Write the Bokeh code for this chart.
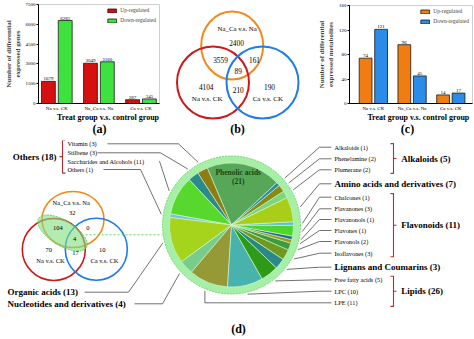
import numpy as np
from bokeh.plotting import figure
from bokeh.layouts import column, row
from bokeh.models import Range1d, FixedTicker, Legend
from bokeh.core.properties import value
from bokeh.embed import file_html
from bokeh.resources import INLINE

# ---------------- data ----------------
groups = ["Na v.s. CK", "Na_Ca v.s. Na", "Ca v.s. CK"]
gene_up = [1679, 3049, 287]
gene_down = [6285, 3160, 345]
gene_ticks = [0, 1500, 3000, 4500, 6000, 7500]
met_up = [74, 96, 14]
met_down = [121, 45, 17]
met_ticks = [0, 40, 80, 120, 160]
legend_labels = ["Up-regulated", "Down-regulated"]
x_title = "Treat group v.s. control group"

venn_sets = ["Na_Ca v.s. Na", "Na v.s. CK", "Ca v.s. CK"]
# regions: NaCa only, Na&NaCa, NaCa&Ca, all, Na only, Na&Ca, Ca only
venn_genes = [2400, 3559, 161, 89, 4104, 210, 190]
venn_metab = [32, 104, 0, 4, 70, 17, 10]

classes = ["Phenolic acids", "Vitamin", "Stilbene", "Saccharides and Alcohols", "Others",
           "Organic acids", "Nucleotides and derivatives", "LPE", "LPC", "Free fatty acids",
           "Lignans and Coumarins", "Isoflavones", "Flavonols", "Flavones", "Flavanonols",
           "Flavanones", "Chalcones", "Amino acids and derivatives", "Plumerane",
           "Phenelamine", "Alkaloids"]
class_counts = [21, 3, 3, 11, 1, 13, 4, 11, 10, 5, 3, 3, 2, 1, 1, 3, 1, 7, 2, 2, 1]

right_list = ["Alkaloids", "Phenelamine", "Plumerane", "Amino acids and derivatives",
              "Chalcones", "Flavanones", "Flavanonols", "Flavones", "Flavonols", "Isoflavones",
              "Lignans and Coumarins", "Free fatty acids", "LPC", "LPE"]
right_bold = ["Amino acids and derivatives", "Lignans and Coumarins"]
left_list = ["Vitamin", "Stilbene", "Saccharides and Alcohols", "Others"]
bottom_list = ["Organic acids", "Nucleotides and derivatives"]
class_groups = {
    "Alkaloids": ["Alkaloids", "Phenelamine", "Plumerane"],
    "Flavonoids": ["Chalcones", "Flavanones", "Flavanonols", "Flavones", "Flavonols", "Isoflavones"],
    "Lipids": ["Free fatty acids", "LPC", "LPE"],
    "Others": ["Vitamin", "Stilbene", "Saccharides and Alcohols", "Others"],
}

# ---------------- styles ----------------
SERIF = "Liberation Serif"
FONT = value(SERIF)
pie_colors = {
    "Phenolic acids": "#58a658", "Vitamin": "#8c7d0e", "Stilbene": "#2b8a8c",
    "Saccharides and Alcohols": "#58d82c", "Others": "#6fc4d8", "Organic acids": "#a6d31c",
    "Nucleotides and derivatives": "#78cc8c", "LPE": "#969a36", "LPC": "#48b2ac",
    "Free fatty acids": "#2e9a18", "Lignans and Coumarins": "#27898a", "Isoflavones": "#6f9a1c",
    "Flavonols": "#3c9b3c", "Flavones": "#9a9a1a", "Flavanonols": "#2a6c8e",
    "Flavanones": "#4ed62c", "Chalcones": "#5dbdd2", "Amino acids and derivatives": "#a9ce1a",
    "Plumerane": "#7cd67c", "Phenelamine": "#8a8a12", "Alkaloids": "#2a8ca2",
}
ORANGE, RED, BLUE = "#f08a1e", "#cc1a1a", "#1e7ee6"
BAR_H = 113          # height of the bar figures (frame bottom at ~104 px)
TOP_H = 140          # height of the top row


def txt(p, x, y, s, size, align="center", bold=False, color="black", baseline="middle"):
    p.text(x=[x], y=[y], text=[s], text_font=FONT, text_font_size=f"{size}px",
           text_align=align, text_baseline=baseline,
           text_font_style="bold" if bold else "normal", text_color=color)


def canvas(width, height, x0):
    p = figure(width=width, height=height, x_range=Range1d(x0, x0 + width),
               y_range=Range1d(0, height), x_axis_type=None, y_axis_type=None,
               output_backend="svg", toolbar_location=None, min_border=0,
               outline_line_color=None)
    return p


def bar_panel(width, up, down, ticks, ymax, c_up, c_down, ylabel, borders, xr, lmargin):
    left, right, top, bottom = borders
    p = figure(width=width, height=BAR_H, x_range=Range1d(*xr), y_range=Range1d(0, ymax),
               output_backend="svg", toolbar_location=None,
               min_border_left=left, min_border_right=right,
               min_border_top=top, min_border_bottom=bottom)
    p.xgrid.visible = False
    p.ygrid.visible = False
    p.outline_line_color = "#cfcfcf"
    xs = np.arange(1, len(groups) + 1)
    r_up = p.vbar(x=xs - 0.2, top=up, width=0.33, fill_color=c_up, line_color="#1a1a1a", line_width=0.8)
    r_dn = p.vbar(x=xs + 0.2, top=down, width=0.33, fill_color=c_down, line_color="#1a1a1a", line_width=0.8)
    for off, vals in ((-0.2, up), (0.2, down)):
        p.text(x=xs + off, y=vals, text=[str(v) for v in vals], text_font=FONT,
               text_font_size="5px", text_align="center", text_baseline="bottom", y_offset=-1)
    xa = p.xaxis[0]
    xa.ticker = FixedTicker(ticks=[int(i) for i in xs])
    xa.major_label_overrides = {int(i): g for i, g in zip(xs, groups)}
    xa.major_label_text_font = SERIF
    xa.major_label_text_font_size = "5px"
    xa.major_label_standoff = 2
    xa.major_tick_in = 0
    xa.major_tick_out = 0
    xa.minor_tick_out = 0
    xa.minor_tick_in = 0
    ya = p.yaxis[0]
    ya.ticker = FixedTicker(ticks=ticks)
    ya.axis_label = ylabel
    ya.axis_label_text_font = SERIF
    ya.axis_label_text_font_size = "7px"
    ya.axis_label_text_font_style = "bold"
    ya.axis_label_text_line_height = 1.1
    ya.axis_label_standoff = 1
    ya.major_label_text_font = SERIF
    ya.major_label_text_font_size = "5px"
    ya.major_label_standoff = 1
    ya.major_tick_in = 0
    ya.major_tick_out = 2
    ya.minor_tick_in = 0
    ya.minor_tick_out = 0
    for ax in (xa, ya):
        ax.axis_line_color = "black"
        ax.major_tick_line_color = "black"
        ax.major_label_text_color = "black"
    leg = Legend(items=[(legend_labels[0], [r_up]), (legend_labels[1], [r_dn])],
                 location="top_right", label_text_font=SERIF, label_text_font_size="5.5px",
                 glyph_width=11, glyph_height=5, label_height=5, label_standoff=3,
                 spacing=4, padding=2, margin=lmargin, border_line_color=None,
                 background_fill_alpha=0)
    p.add_layout(leg)
    return p


def caption(width, x0, title_x, tag_x, tag):
    p = canvas(width, TOP_H - BAR_H, x0)
    Yc = lambda y: TOP_H - y
    txt(p, title_x, Yc(117), x_title, 8, bold=True)
    txt(p, tag_x, Yc(128), tag, 12, bold=True)
    return p


pa = bar_panel(160, gene_up, gene_down, gene_ticks, 7500, "#d41010", "#3ee23e",
               "Number of differential\nexpressed genes", (38, 1, 4, BAR_H - 104),
               (0.565, 3.44), 3)
pc = bar_panel(159, met_up, met_down, met_ticks, 160, "#f07d12", "#2b8be8",
               "Number of differential\nexpressed metabolites", (23, 2, 5, BAR_H - 105),
               (0.384, 3.56), 3)
ca = caption(160, 0, 92, 80.7, "(a)")
cc_ = caption(159, 315, 404, 390, "(c)")

# ---------------- (b) Venn of genes ----------------
pb = canvas(155, TOP_H, 160)
Yb = lambda y: TOP_H - y
pb.ellipse(x=[231.7, 212.5, 262.0], y=[Yb(45), Yb(82), Yb(82)], width=[62, 72, 72],
           height=[68, 72, 72], fill_color=None, line_color=[ORANGE, RED, BLUE], line_width=2)
b_pos = [(236, 42.7), (220, 59), (254, 59), (237.7, 70.7), (205.7, 86), (237.7, 89), (269, 86)]
for (x, y), v in zip(b_pos, venn_genes):
    txt(pb, x, Yb(y), str(v), 7.3)
txt(pb, 236.7, Yb(28.3), venn_sets[0], 6.8)
txt(pb, 206.7, Yb(98), venn_sets[1], 7)
txt(pb, 267.3, Yb(98), venn_sets[2], 7)
txt(pb, 237, Yb(128), "(b)", 12, bold=True)

# ---------------- (d) ----------------
pd_ = canvas(474, 339 - TOP_H, 0)
Y = lambda y: 339 - y

# Venn of metabolites
pd_.ellipse(x=[72.5, 53.3, 95.8], y=[Y(219), Y(249), Y(248.7)], width=[62, 63, 62],
            height=[56, 62, 62], fill_color=None, line_color=[ORANGE, RED, BLUE], line_width=1.6)
pd_.ellipse(x=[62], y=[Y(232.5)], width=[56], height=[25], angle=-0.55,
            fill_color="#7ee07e", fill_alpha=0.6, line_color="#4cc84c", line_dash="2 1",
            line_width=0.8)
pd_.line(x=[85, 162], y=[Y(234.3), Y(234.3)], line_color="#4cd64c", line_dash="2 2", line_width=0.9)
d_pos = [(71.7, 212.7), (57.3, 227.3), (87.3, 227.3), (74, 238.7), (48.3, 249), (75, 252.7), (101.7, 249)]
for (x, y), v in zip(d_pos, venn_metab):
    txt(pd_, x, Y(y), str(v), 6.5)
txt(pd_, 70.7, Y(201.7), venn_sets[0], 6.5)
txt(pd_, 50, Y(259.5), venn_sets[1], 6.5)
txt(pd_, 104, Y(259.5), venn_sets[2], 6.5)

# pie geometry
cx, cy, R_PIE, R_RING, R_LEAD = 231, 224.5, 62, 69, 71
PIE_START = 43.0
cnt = np.array(class_counts, float)
span = cnt / cnt.sum() * 360.0
starts = PIE_START + np.concatenate([[0.0], np.cumsum(span)[:-1]])
ends = starts + span
mids = np.radians((starts + ends) / 2)
rim = {c: (cx + R_LEAD * np.cos(m), cy - R_LEAD * np.sin(m)) for c, m in zip(classes, mids)}
cc = dict(zip(classes, class_counts))

# leader lines
xs_l, ys_l = [], []
right_y = [146.7, 158.3, 169.3, 183.3, 196.7, 208.3, 219, 230, 241, 252.7, 266.7, 279.3, 290.7, 302.3]
for c, ly in zip(right_list, right_y):
    rx, ry = rim[c]
    if c == "LPE":
        px, py = [rx, rx, 331], [ry, ly, ly]
    else:
        px, py = [rx, 319, 331], [ry, ly, ly]
    xs_l.append(px); ys_l.append([Y(v) for v in py])
left_y = [143.3, 152.3, 160.7, 169]
left_start = [107, 97, 159, 103]
left_knee = [178, 160, None, 140]
for c, ly, sx, kx in zip(left_list, left_y, left_start, left_knee):
    rx, ry = rim[c]
    px = [sx] + ([kx] if kx else []) + [rx]
    py = [ly] + ([ly] if kx else []) + [ry]
    xs_l.append(px); ys_l.append([Y(v) for v in py])
bottom_y = [291.7, 303.3]
bottom_start = [84, 134]
bottom_knee = [128, 162]
for c, ly, sx, kx in zip(bottom_list, bottom_y, bottom_start, bottom_knee):
    rx, ry = rim[c]
    xs_l.append([sx, kx, rx]); ys_l.append([Y(ly), Y(ly), Y(ry)])
pd_.multi_line(xs_l, ys_l, line_color="#333333", line_width=0.7)

# pie
pd_.annulus(x=[cx], y=[Y(cy)], inner_radius=R_PIE - 1, outer_radius=R_RING,
            fill_color="#a6efa6", line_color=None)
pd_.wedge(x=cx, y=Y(cy), radius=R_PIE, start_angle=np.radians(starts), end_angle=np.radians(ends),
          direction="anticlock", fill_color=[pie_colors[c] for c in classes],
          line_color="#d4f6d4", line_width=0.6)
pd_.circle(x=[cx], y=[Y(cy)], radius=R_RING, fill_color=None, line_color="#62cc62",
           line_dash="2 1", line_width=0.8)
txt(pd_, 237.7, Y(171.7), classes[0], 7.5, bold=True, color="#154a15")
txt(pd_, 237.7, Y(180.5), f"({class_counts[0]})", 7.5, bold=True, color="#154a15")

# labels right
for c, ly in zip(right_list, right_y):
    if c in right_bold:
        txt(pd_, 334, Y(ly), f"{c} ({cc[c]})", 9, align="left", bold=True)
    else:
        txt(pd_, 334, Y(ly), f"{c} ({cc[c]})", 6.3, align="left")
for c, ly in zip(left_list, left_y):
    txt(pd_, 67, Y(ly), f"{c} ({cc[c]})", 6.3, align="left")
for c, ly in zip(bottom_list, bottom_y):
    txt(pd_, 7, Y(ly), f"{c} ({cc[c]})", 9, align="left", bold=True)

# brackets
bx, by = [], []
ylook = dict(zip(right_list, right_y))
ylook.update(dict(zip(left_list, left_y)))
for g, members in class_groups.items():
    total = sum(cc[m] for m in members)
    yt = ylook[members[0]] - 3.6
    yb = ylook[members[-1]] + 3.6
    ym = (yt + yb) / 2
    if g == "Others":
        x0 = 62
        bx.append([x0 + 3, x0, x0, x0 + 3]); by.append([Y(yt), Y(yt), Y(yb), Y(yb)])
        bx.append([x0, x0 - 3]); by.append([Y(ym), Y(ym)])
        txt(pd_, 56, Y(ym), f"{g} ({total})", 9, align="right", bold=True)
    else:
        x0 = 393
        bx.append([x0 - 3, x0, x0, x0 - 3]); by.append([Y(yt), Y(yt), Y(yb), Y(yb)])
        bx.append([x0, x0 + 3]); by.append([Y(ym), Y(ym)])
        txt(pd_, 400.7, Y(ym), f"{g} ({total})", 9, align="left", bold=True)
pd_.multi_line(bx, by, line_color="#c0282e", line_width=1.1)

txt(pd_, 238, Y(328.3), "(d)", 12, bold=True)

layout = column(row(column(pa, ca, spacing=0), pb, column(pc, cc_, spacing=0), spacing=0),
                pd_, spacing=0)
open("out.html", "w").write(file_html(layout, INLINE))
